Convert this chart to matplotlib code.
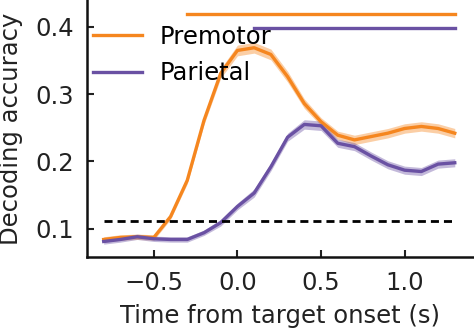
import matplotlib
matplotlib.use("Agg")
import matplotlib.pyplot as plt
import numpy as np

time = [-0.8, -0.7, -0.6, -0.5, -0.4, -0.3, -0.2, -0.1, 0.0, 0.1, 0.2,
        0.3, 0.4, 0.5, 0.6, 0.7, 0.8, 0.9, 1.0, 1.1, 1.2, 1.3]
premotor = [0.084, 0.087, 0.088, 0.087, 0.118, 0.172, 0.261, 0.331, 0.365, 0.369, 0.359,
            0.326, 0.286, 0.259, 0.239, 0.232, 0.237, 0.242, 0.249, 0.252, 0.249, 0.242]
premotor_sem = [0.004, 0.004, 0.004, 0.004, 0.004, 0.005, 0.006, 0.007, 0.008, 0.008, 0.008,
                0.008, 0.007, 0.006, 0.006, 0.007, 0.007, 0.007, 0.007, 0.007, 0.007, 0.007]
parietal = [0.081, 0.084, 0.088, 0.085, 0.084, 0.084, 0.094, 0.109, 0.133, 0.153, 0.192,
            0.236, 0.255, 0.253, 0.227, 0.222, 0.208, 0.195, 0.187, 0.185, 0.196, 0.198]
parietal_sem = [0.004, 0.004, 0.004, 0.004, 0.004, 0.004, 0.004, 0.005, 0.005, 0.006, 0.006,
                0.006, 0.007, 0.007, 0.006, 0.006, 0.006, 0.006, 0.006, 0.006, 0.006, 0.006]
chance = 0.112
sig_premotor = (-0.3, 1.3, 0.419)
sig_parietal = (0.1, 1.3, 0.399)

orange = "#f5861f"
purple = "#6a51a3"
fs = 17.5

plt.rcParams["font.family"] = "DejaVu Sans"
fig = plt.figure(figsize=(4.74, 3.29), dpi=100)
ax = fig.add_axes([0.1835, 0.219, 0.8165, 0.781])

t = np.array(time)
for y, e, c, lab in [(premotor, premotor_sem, orange, "Premotor"),
                     (parietal, parietal_sem, purple, "Parietal")]:
    y = np.array(y)
    e = np.array(e)
    ax.fill_between(t, y - e, y + e, color=c, alpha=0.4, lw=0)
    ax.plot(t, y, color=c, lw=2.4, label=lab)

ax.plot([time[0], time[-1]], [chance, chance], "k--", lw=2, dashes=(2.9, 1.8))
ax.plot(sig_premotor[:2], [sig_premotor[2]] * 2, color=orange, lw=2.4)
ax.plot(sig_parietal[:2], [sig_parietal[2]] * 2, color=purple, lw=2.4)

ax.set_xlim(-0.9, 1.415)
ax.set_ylim(0.058, 0.44)
ax.set_xticks([-0.5, 0.0, 0.5, 1.0])
ax.set_yticks([0.1, 0.2, 0.3, 0.4])
ax.tick_params(direction="in", length=5, width=1.5, labelsize=fs, colors="#222222")
ax.tick_params(axis="y", pad=9)
ax.tick_params(axis="x", pad=10)
for s in ["top", "right"]:
    ax.spines[s].set_visible(False)
for s in ["left", "bottom"]:
    ax.spines[s].set_linewidth(1.8)
    ax.spines[s].set_color("#111111")

ax.set_xlabel("Time from target onset (s)", fontsize=fs, color="#222222")
ax.set_ylabel("Decoding accuracy", fontsize=fs, color="#222222")
ax.xaxis.set_label_coords(0.5, -0.183)
ax.yaxis.set_label_coords(-0.165, 0.5)
ax.legend(loc="upper left", frameon=False, fontsize=fs, handlelength=2.0,
          bbox_to_anchor=(0.0155, 0.903), borderaxespad=0, borderpad=0,
          labelspacing=0.5, handletextpad=0.75)

fig.savefig("out.png", dpi=100)
